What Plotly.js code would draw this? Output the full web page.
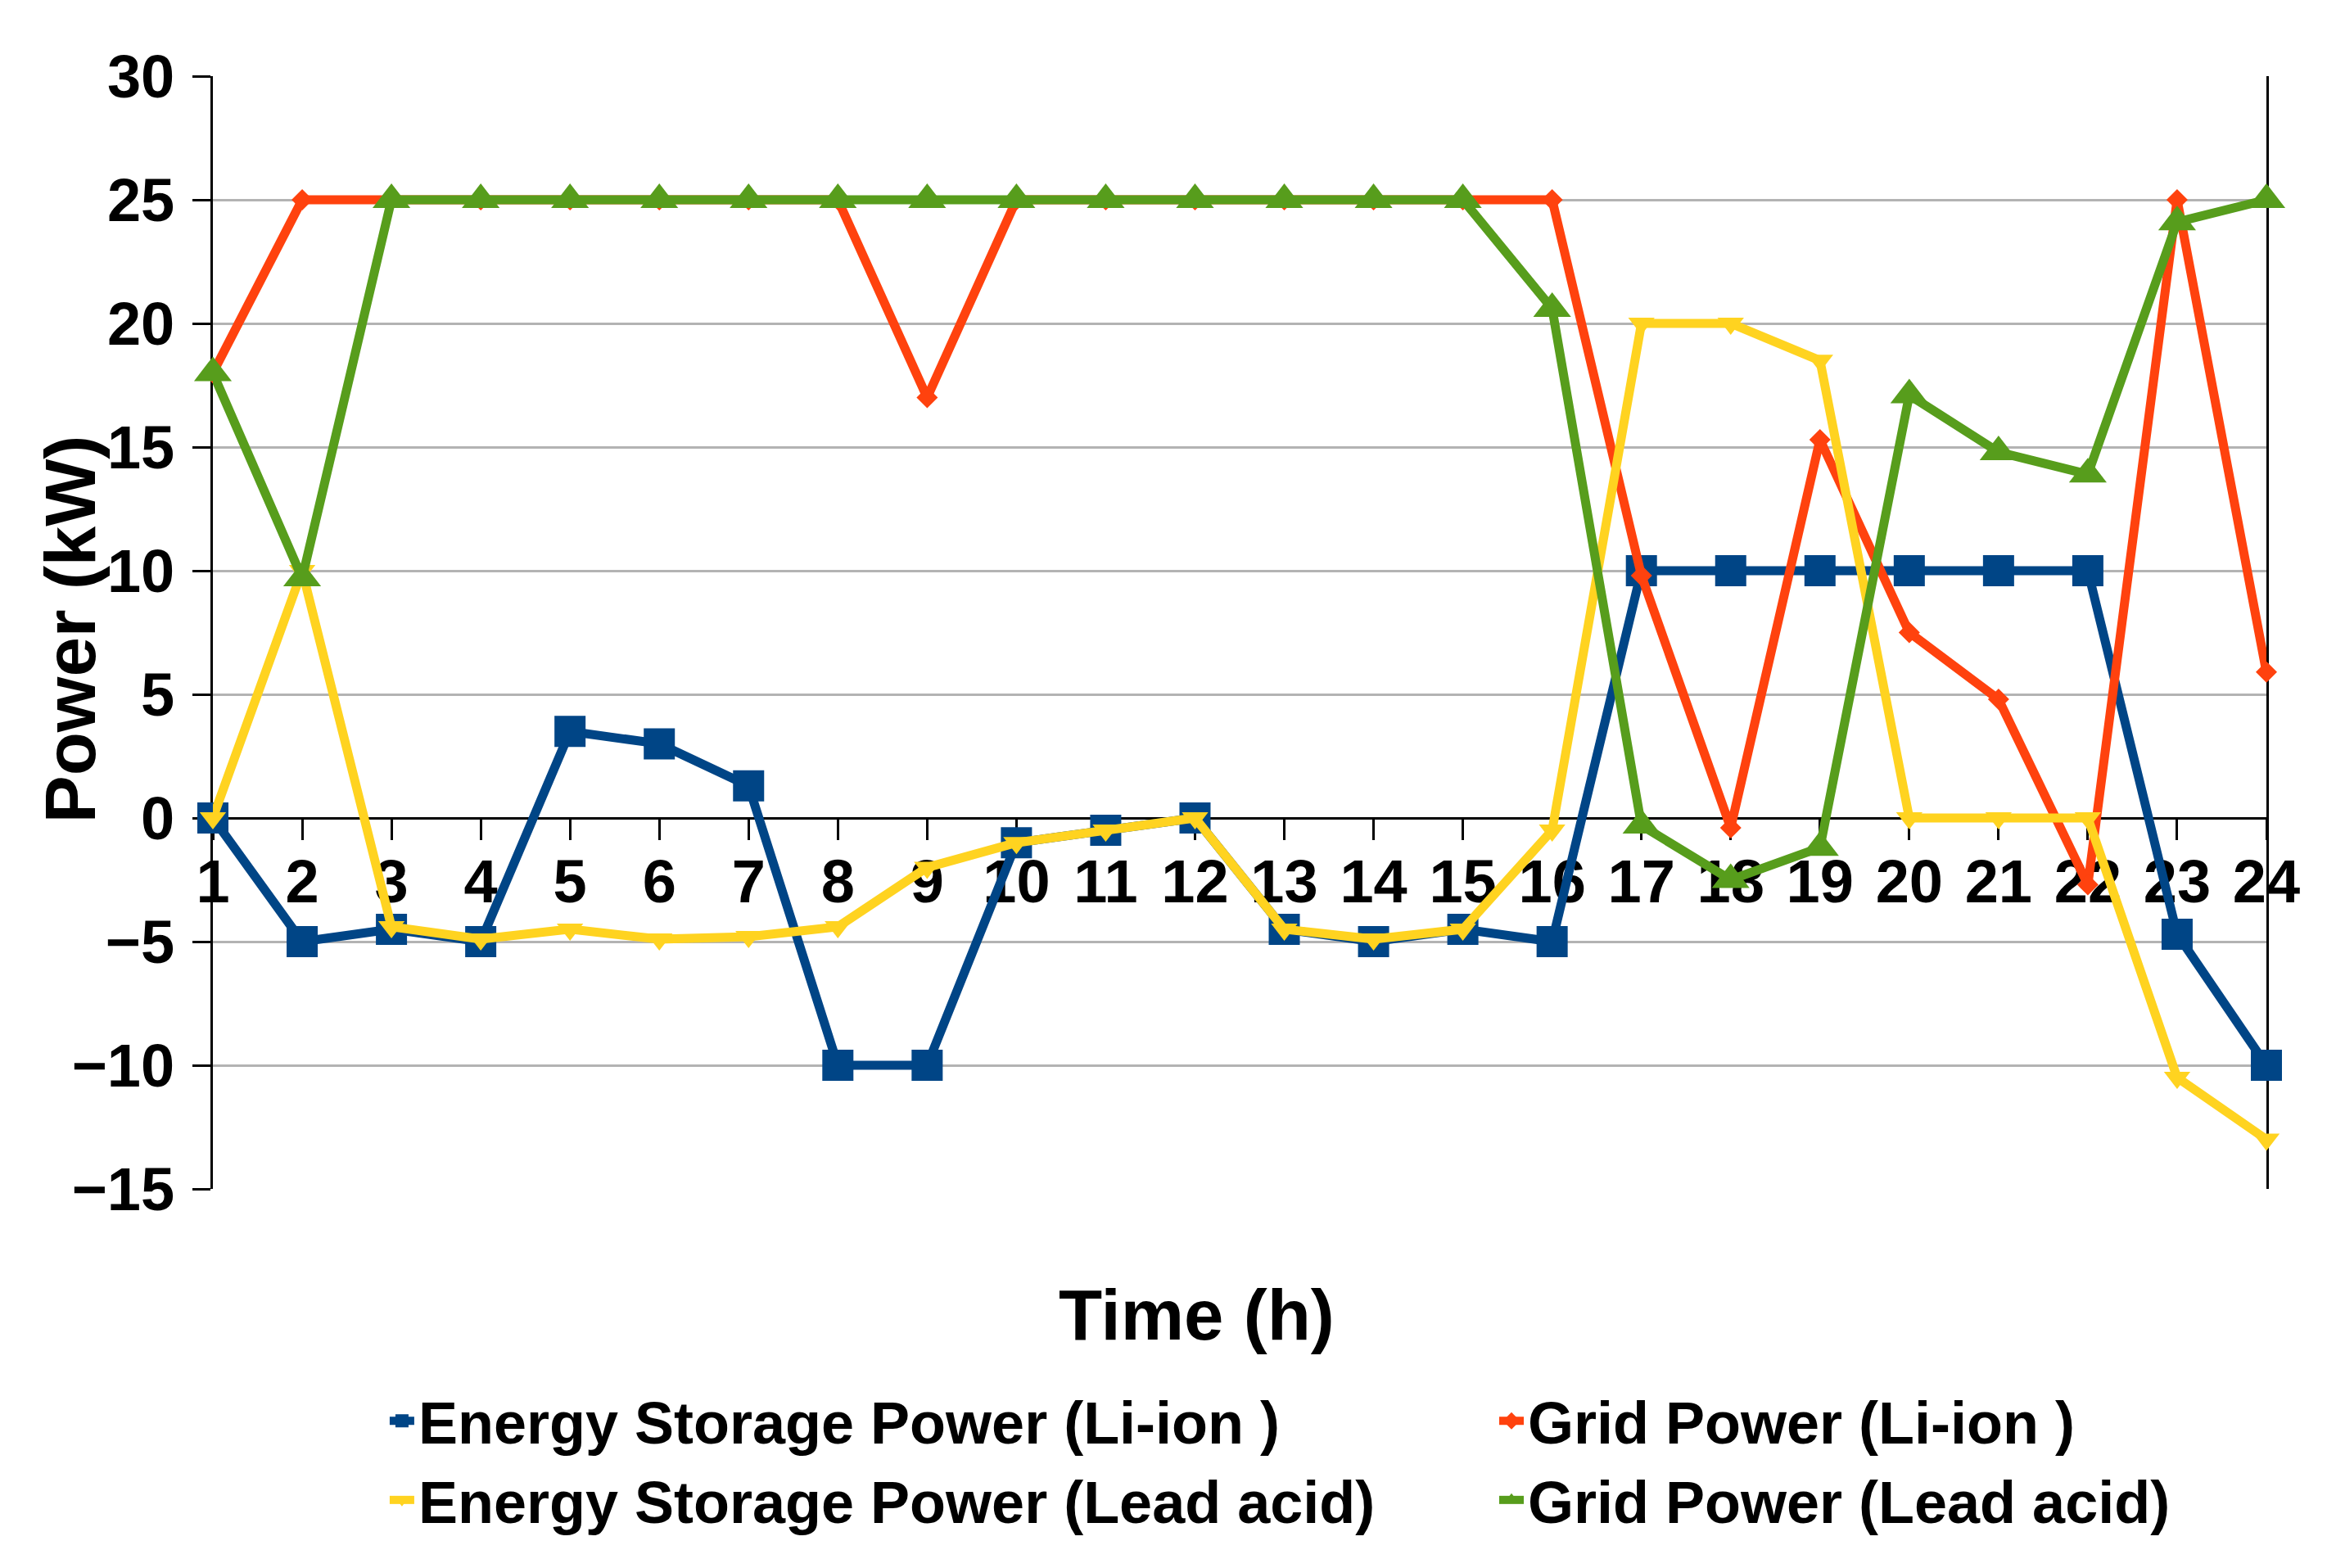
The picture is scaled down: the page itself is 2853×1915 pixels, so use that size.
<!DOCTYPE html>
<html>
<head>
<meta charset="utf-8">
<script src="https://cdn.plot.ly/plotly-3.0.1.min.js"></script>
<style>
  html, body { margin: 0; padding: 0; background: #ffffff; }
  #chart { width: 2853px; height: 1915px; }
</style>
</head>
<body>
<div id="chart"></div>
<script>
// ---- data ----
const hours = [1, 2, 3, 4, 5, 6, 7, 8, 9, 10, 11, 12, 13, 14, 15, 16, 17, 18, 19, 20, 21, 22, 23, 24];
const hourLabels = ["1", "2", "3", "4", "5", "6", "7", "8", "9", "10", "11", "12",
                    "13", "14", "15", "16", "17", "18", "19", "20", "21", "22", "23", "24"];

const storageLiIon   = [0, -5, -4.5, -5, 3.5, 3, 1.3, -10, -10, -1, -0.5, 0,
                        -4.5, -5, -4.5, -5, 10, 10, 10, 10, 10, 10, -4.7, -10];
const gridLiIon      = [18, 25, 25, 25, 25, 25, 25, 25, 17, 25, 25, 25,
                        25, 25, 25, 25, 9.8, -0.4, 15.3, 7.5, 4.8, -2.7, 25, 5.9];
const storageLead    = [0, 10, -4.4, -4.9, -4.5, -4.9, -4.8, -4.4, -2, -1, -0.5, 0,
                        -4.5, -4.9, -4.5, -0.5, 20, 20, 18.5, 0, 0, 0, -10.5, -13];
const gridLead       = [18, 9.7, 25, 25, 25, 25, 25, 25, 25, 25, 25, 25,
                        25, 25, 25, 20.6, -0.3, -2.5, -1.2, 17.1, 14.8, 13.9, 24.1, 25];

const seriesNames = [
  "Energy Storage Power (Li-ion )",
  "Grid Power (Li-ion )",
  "Energy Storage Power (Lead acid)",
  "Grid Power (Lead acid)"
];

const yTickVals = [-15, -10, -5, 0, 5, 10, 15, 20, 25, 30];
const yTickText = ["\u221215", "\u221210", "\u22125", "0", "5", "10", "15", "20", "25", "30"];

// ---- styling ----
const FONT = "Liberation Sans, Arial, Helvetica, sans-serif";
const colors = { blue: "#004586", red: "#ff420e", yellow: "#ffd320", green: "#579d1c" };

function series(y, name, color, symbol, size, legendId) {
  return {
    type: "scatter",
    mode: "lines+markers",
    x: hours,
    y: y,
    name: name,
    legend: legendId,
    cliponaxis: false,
    line: { color: color, width: 11 },
    marker: { color: color, symbol: symbol, size: size, line: { width: 0 } }
  };
}

const traces = [
  series(storageLiIon, seriesNames[0], colors.blue,   "square",        38, "legend"),
  series(gridLiIon,    seriesNames[1], colors.red,    "diamond",       20, "legend2"),
  series(storageLead,  seriesNames[2], colors.yellow, "triangle-down", 28, "legend"),
  series(gridLead,     seriesNames[3], colors.green,  "triangle-up",   40, "legend2")
];

const legendFont = { family: FONT, size: 72, color: "#000000", weight: 700 };
const tickFont = { family: FONT, size: 74, color: "#000000", weight: 700 };

const layout = {
  width: 2853,
  height: 1915,
  paper_bgcolor: "#ffffff",
  plot_bgcolor: "#ffffff",
  margin: { l: 260, r: 85, t: 93, b: 463, autoexpand: false },
  showlegend: true,
  xaxis: {
    range: [1, 24],
    tickmode: "array",
    tickvals: hours,
    ticktext: hourLabels,
    showgrid: false,
    zeroline: false,
    showline: true,
    linecolor: "#000000",
    linewidth: 3,
    ticks: "outside",
    ticklen: 25,
    tickwidth: 3,
    tickcolor: "#000000",
    ticklabelstandoff: -13,
    anchor: "free",
    position: 1 / 3,
    layer: "below traces",
    tickfont: tickFont
  },
  yaxis: {
    range: [-15, 30],
    domain: [0, 1],
    tickmode: "array",
    tickvals: yTickVals,
    ticktext: yTickText,
    showgrid: true,
    gridcolor: "#b3b3b3",
    gridwidth: 3,
    zeroline: false,
    showline: true,
    mirror: true,
    linecolor: "#000000",
    linewidth: 3,
    ticks: "outside",
    ticklen: 22,
    tickwidth: 3,
    tickcolor: "#000000",
    ticklabelstandoff: 7,
    layer: "below traces",
    tickfont: tickFont
  },
  legend: {
    orientation: "v",
    x: 0.0841, xanchor: "left",
    y: -0.1692, yanchor: "top",
    bgcolor: "rgba(0,0,0,0)",
    borderwidth: 0,
    itemwidth: 30,
    font: legendFont
  },
  legend2: {
    orientation: "v",
    x: 0.6244, xanchor: "left",
    y: -0.1692, yanchor: "top",
    bgcolor: "rgba(0,0,0,0)",
    borderwidth: 0,
    itemwidth: 30,
    font: legendFont
  },
  annotations: [
    {
      text: "Time (h)",
      xref: "paper", yref: "paper",
      x: 0.479, y: -0.1133,
      xanchor: "center", yanchor: "middle",
      showarrow: false,
      font: { family: FONT, size: 87, color: "#000000", weight: 700 }
    },
    {
      text: "Power (kW)",
      xref: "paper", yref: "paper",
      x: -0.0698, y: 0.503,
      xanchor: "center", yanchor: "middle",
      textangle: -90,
      showarrow: false,
      font: { family: FONT, size: 87, color: "#000000", weight: 700 }
    }
  ]
};

Plotly.newPlot("chart", traces, layout, { displayModeBar: false, staticPlot: true });
</script>
</body>
</html>
